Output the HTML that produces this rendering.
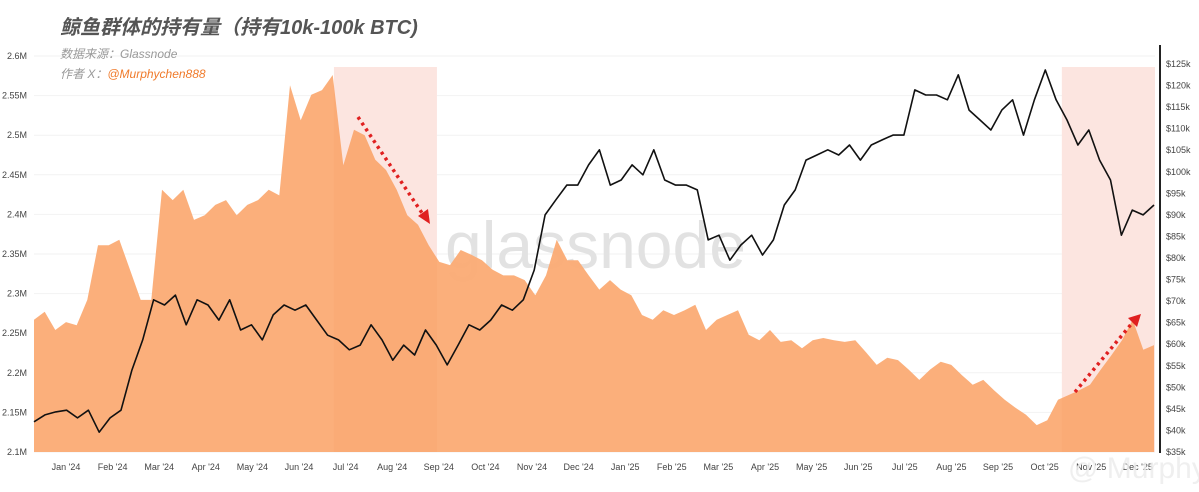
<!DOCTYPE html>
<html><head><meta charset="utf-8"><style>
body{margin:0;background:#fff;width:1199px;height:487px;overflow:hidden;font-family:"Liberation Sans","Noto Sans CJK SC",sans-serif}
</style></head><body>
<svg id="chart" width="1199" height="487" xmlns="http://www.w3.org/2000/svg">
<g id="grid"></g>
<g id="bands"></g>
<text x="445" y="268" font-size="66" fill="#e2e2e2" font-family="Liberation Sans,sans-serif">glassnode</text>
<path id="area" fill="#fbab74" fill-opacity="0.95"></path>
<g id="bands2"></g>
<path id="price" fill="none" stroke="#111" stroke-width="1.6" stroke-linejoin="round"></path>
<g id="leftAxis"></g>
<g id="rightAxis"></g>
<g id="xAxis"></g>
<line x1="358" y1="117" x2="424" y2="216" stroke="#e02020" stroke-width="3.5" stroke-dasharray="3,4"/>
<polygon points="430,224 418,216 428,209" fill="#e02020"/>
<line x1="1075" y1="392" x2="1133" y2="322" stroke="#e02020" stroke-width="3.5" stroke-dasharray="3,4"/>
<polygon points="1141,314 1128,318 1137,327" fill="#e02020"/>
<text x="60" y="34" font-size="20" font-weight="bold" font-style="italic" fill="#555">鲸鱼群体的持有量（持有10k-100k BTC)</text>
<text x="60" y="58" font-size="12" font-style="italic" fill="#999">数据来源：Glassnode</text>
<text x="60" y="78" font-size="12" font-style="italic" fill="#999">作者 X：<tspan fill="#f07a2a">@Murphychen888</tspan></text>
<text x="1068" y="478" font-size="30" fill="#ececec" fill-opacity="0.85">@ Murphy</text>
</svg>
<script>
const supply=[2.267,2.277,2.254,2.264,2.260,2.292,2.361,2.361,2.368,2.330,2.292,2.292,2.431,2.418,2.431,2.393,2.399,2.412,2.418,2.399,2.412,2.418,2.431,2.424,2.563,2.519,2.551,2.557,2.576,2.462,2.507,2.500,2.469,2.456,2.431,2.399,2.387,2.361,2.340,2.336,2.355,2.349,2.342,2.330,2.323,2.323,2.317,2.298,2.323,2.368,2.342,2.342,2.323,2.305,2.317,2.305,2.298,2.273,2.267,2.279,2.273,2.279,2.286,2.254,2.267,2.273,2.279,2.248,2.241,2.254,2.239,2.241,2.231,2.241,2.244,2.241,2.239,2.241,2.226,2.210,2.219,2.216,2.204,2.191,2.204,2.214,2.210,2.197,2.185,2.191,2.178,2.166,2.156,2.147,2.134,2.140,2.166,2.172,2.178,2.185,2.204,2.222,2.241,2.267,2.229,2.235];
const price=[42.0,43.6,44.3,44.7,42.9,44.7,39.6,42.9,44.7,54.0,61.0,70.3,69.1,71.4,64.5,70.3,69.1,65.6,70.3,63.3,64.5,61.0,66.8,69.1,67.9,69.1,65.6,62.1,61.0,58.7,59.8,64.5,61.0,56.3,59.8,57.5,63.3,59.8,55.2,59.8,64.5,63.3,65.6,69.1,67.9,70.3,77.2,90.0,93.5,96.9,96.9,101.6,105.1,96.9,98.1,101.6,99.3,105.1,98.1,96.9,96.9,95.8,84.2,85.3,79.5,83.0,85.3,80.7,84.2,92.3,95.8,102.7,103.9,105.1,103.9,106.2,102.7,106.2,107.4,108.5,108.5,119.0,117.8,117.8,116.7,122.5,114.3,112.0,109.7,114.3,116.7,108.5,116.7,123.6,116.7,112.0,106.2,109.7,102.7,98.1,85.3,91.1,90.0,92.3];
const leftTicks=[2.1,2.15,2.2,2.25,2.3,2.35,2.4,2.45,2.5,2.55,2.6];
const leftLabels=["2.1M","2.15M","2.2M","2.25M","2.3M","2.35M","2.4M","2.45M","2.5M","2.55M","2.6M"];
const rightTicks=[35,40,45,50,55,60,65,70,75,80,85,90,95,100,105,110,115,120,125];
const monthLabels=["Jan '24","Feb '24","Mar '24","Apr '24","May '24","Jun '24","Jul '24","Aug '24","Sep '24","Oct '24","Nov '24","Dec '24","Jan '25","Feb '25","Mar '25","Apr '25","May '25","Jun '25","Jul '25","Aug '25","Sep '25","Oct '25","Nov '25","Dec '25"];
const bandMonths=[[5.75,7.96],[21.37,23.4]];

const X0=34,X1=1154,Y0=452;
const yL=v=>Y0-(v-2.1)/0.5*396;
const yR=v=>Y0-(v-35)/90*388;
const xi=(i,n)=>X0+i*(X1-X0)/(n-1);
const xm=m=>66+m*46.6;
const NS="http://www.w3.org/2000/svg";
function mk(tag,attrs,parent,text){const e=document.createElementNS(NS,tag);for(const k in attrs)e.setAttribute(k,attrs[k]);if(text!==undefined)e.textContent=text;document.getElementById(parent).appendChild(e);return e;}

leftTicks.forEach((t,i)=>{
 const g=mk('line',{x1:34,x2:1155,y1:yL(t),y2:yL(t),stroke:'#f2f2f2','stroke-width':1},'grid');
 
 
 const l=mk('text',{x:27,y:yL(t)+3,'font-size':9,fill:'#444','text-anchor':'end'},'leftAxis',leftLabels[i]);
 
 
});
rightTicks.forEach(t=>{
 const l=mk('text',{x:1166,y:yR(t)+3,'font-size':9,fill:'#444'},'rightAxis','$'+t+'k');
 
 
});
const ax=mk('line',{x1:1160,x2:1160,y1:45,y2:453,stroke:'#222','stroke-width':2},'rightAxis');


monthLabels.forEach((m,i)=>{
 const l=mk('text',{x:xm(i),y:470,'font-size':9,fill:'#444','text-anchor':'middle'},'xAxis',m);
 
 
});
bandMonths.forEach(b=>{
 const x1=xm(b[0]),x2=Math.min(xm(b[1]),1155);
 const r=mk('rect',{x:x1,y:67,width:x2-x1,height:Y0-67,fill:'#fdeeed'},'bands');
 
 
 const r2=mk('rect',{x:x1,y:67,width:x2-x1,height:Y0-67,fill:'#f08050','fill-opacity':0.08},'bands2');
 
 
});
let d='M'+X0+','+Y0;
supply.forEach((v,i)=>{d+=' L'+xi(i,supply.length).toFixed(1)+','+yL(v).toFixed(1);});
d+=' L'+X1+','+Y0+' Z';
document.getElementById('area').setAttribute('d',d);
let p='';
price.forEach((v,i)=>{p+=(i?' L':'M')+xi(i,price.length).toFixed(1)+','+yR(v).toFixed(1);});
document.getElementById('price').setAttribute('d',p);
</script>
</body></html>
